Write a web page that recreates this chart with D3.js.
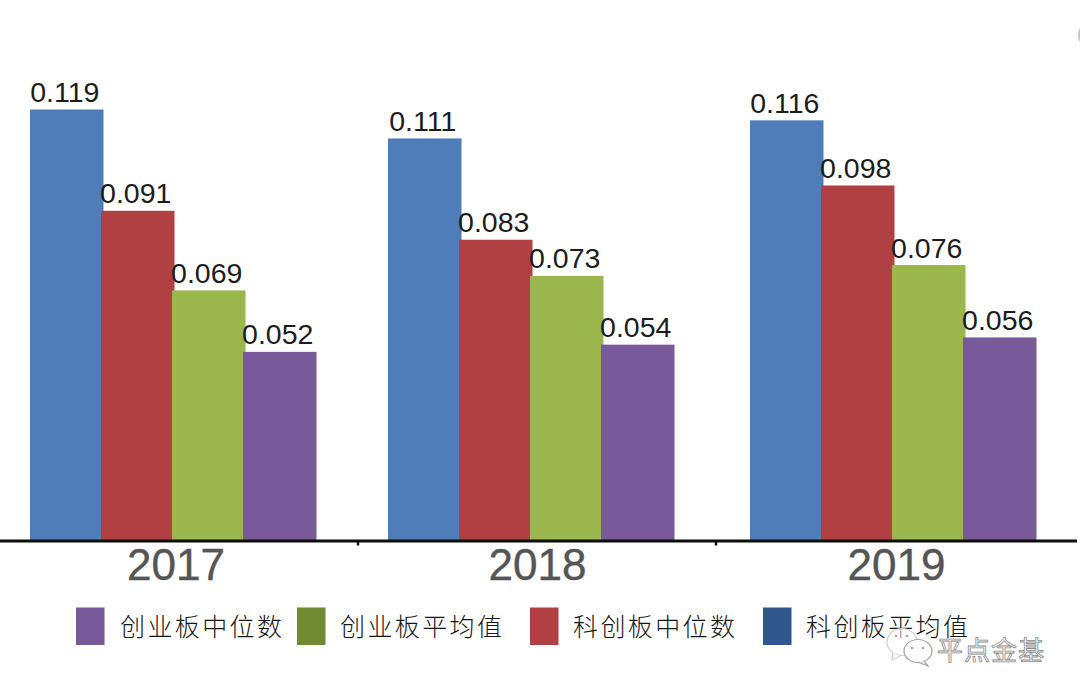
<!DOCTYPE html>
<html>
<head>
<meta charset="utf-8">
<script src="https://cdn.jsdelivr.net/npm/d3@7"></script>
<style>
  html, body { margin: 0; padding: 0; background: #fff; }
  svg { display: block; }
</style>
</head>
<body>
<svg id="chart" width="1080" height="698"></svg>
<script>
// Categories and series values
const years = ["2017", "2018", "2019"];
const seriesNames = ["科创板平均值", "科创板中位数", "创业板平均值", "创业板中位数"];
const kechuangMean = [0.119, 0.111, 0.116];
const kechuangMedian = [0.091, 0.083, 0.098];
const chinextMean = [0.069, 0.073, 0.076];
const chinextMedian = [0.052, 0.054, 0.056];
const valueRows = [kechuangMean, kechuangMedian, chinextMean, chinextMedian];

const barColors = ["#4f7db9", "#b14043", "#9bb64c", "#785a9a"];
const legendNames = ["创业板中位数", "创业板平均值", "科创板中位数", "科创板平均值"];
const legendColors = ["#785a9a", "#6f8a30", "#b14043", "#30588d"];
const watermark = "平点金基";

const LATIN = "'Liberation Sans', Arial, sans-serif";
const CJK = "'Noto Sans CJK SC', sans-serif";

const svg = d3.select("#chart");
const baseY = 540;

// Scales: bar groups sit at slightly uneven offsets, bars overlap their neighbours a little
const y = d3.scaleLinear().domain([0, 0.119]).range([baseY, 109.5]);
const groupX = d3.scaleOrdinal(years, [30, 388, 750]);
const barX = d3.scaleBand().domain(seriesNames).range([0, 284]);
const barWidth = 73.5;
const axisX = d3.scaleOrdinal(years, [175.5, 537, 896]);
const legendSwatchX = d3.scaleOrdinal(legendNames, [76, 297, 530, 763]);
const legendTextX = d3.scaleOrdinal(legendNames, [120, 340, 573, 806]);

// Bars
const rows = seriesNames.flatMap((name, s) =>
  years.map((year, i) => ({ name, year, value: valueRows[s][i], color: barColors[s] })));

svg.append("g").selectAll("rect").data(rows).join("rect")
  .attr("x", d => groupX(d.year) + barX(d.name))
  .attr("y", d => y(d.value))
  .attr("width", barWidth)
  .attr("height", d => baseY - y(d.value))
  .attr("fill", d => d.color);

// Value labels above each bar
svg.append("g").selectAll("text").data(rows).join("text")
  .attr("x", d => groupX(d.year) + barX(d.name) + barWidth / 2 - 2)
  .attr("y", d => y(d.value) - 7.5)
  .attr("text-anchor", "middle")
  .attr("font-family", LATIN)
  .attr("font-size", 28.5)
  .attr("fill", "#1c1c1c")
  .text(d => d.value.toFixed(3));

// Year axis with labels only; the baseline and its dividers are drawn below
const axis = svg.append("g")
  .attr("transform", `translate(0,${baseY})`)
  .call(d3.axisBottom(axisX).tickSize(0).tickPadding(0));
axis.select(".domain").remove();
axis.selectAll("text")
  .attr("y", 40)
  .attr("dy", 0)
  .attr("font-family", LATIN)
  .attr("font-size", 44)
  .attr("fill", "#555")
  .attr("stroke", "#555")
  .attr("stroke-width", 0.4);

svg.append("line")
  .attr("x1", 0).attr("x2", 1077)
  .attr("y1", baseY + 1).attr("y2", baseY + 1)
  .attr("stroke", "#0d0d0d").attr("stroke-width", 3);

svg.append("g").selectAll("line").data([358, 716]).join("line")
  .attr("x1", d => d).attr("x2", d => d)
  .attr("y1", baseY).attr("y2", baseY + 5.5)
  .attr("stroke", "#111").attr("stroke-width", 2.5);

// Legend
const legend = svg.append("g").selectAll("g").data(legendNames).join("g");
legend.append("rect")
  .attr("x", d => legendSwatchX(d))
  .attr("y", 607.5)
  .attr("width", 28.5)
  .attr("height", 37.5)
  .attr("fill", (d, i) => legendColors[i]);
legend.append("text")
  .attr("x", d => legendTextX(d))
  .attr("y", 636)
  .attr("font-family", CJK)
  .attr("font-weight", 300)
  .attr("font-size", 25)
  .attr("letter-spacing", 2.4)
  .attr("fill", "#161616")
  .text(d => d);

// Account mark in the lower right corner: two overlapping speech bubbles
const mark = svg.append("g").attr("stroke-width", 1.2);
mark.append("ellipse")
  .attr("cx", 902).attr("cy", 642).attr("rx", 15).attr("ry", 13.5)
  .attr("fill", "#fff").attr("fill-opacity", 0.55).attr("stroke", "#cfcfcf");
mark.append("path")
  .attr("d", "M893 653 L892 660 L900 656")
  .attr("fill", "#fff").attr("stroke", "#cfcfcf");
mark.append("ellipse")
  .attr("cx", 918).attr("cy", 651).attr("rx", 14).attr("ry", 11.5)
  .attr("fill", "#fff").attr("stroke", "#a0a0a0");
mark.append("path")
  .attr("d", "M924 661 L928 666 L919 662.5")
  .attr("fill", "#fff").attr("stroke", "#a0a0a0");
mark.selectAll("circle").data([[912, 648], [923, 648], [896, 636], [907, 636]]).join("circle")
  .attr("cx", d => d[0]).attr("cy", d => d[1]).attr("r", 1.3)
  .attr("fill", "#a8a8a8");

svg.append("text")
  .attr("x", 937).attr("y", 660)
  .attr("font-family", CJK)
  .attr("font-size", 26)
  .attr("letter-spacing", 1)
  .attr("fill", "#fff")
  .attr("stroke", "#8a8a8a")
  .attr("stroke-width", 0.8)
  .text(watermark);

// Clipped fragment of a logo at the right edge
svg.append("circle")
  .attr("cx", 1092).attr("cy", 35).attr("r", 13)
  .attr("fill", "none").attr("stroke", "#c4c4c4").attr("stroke-width", 2);
</script>
</body>
</html>
